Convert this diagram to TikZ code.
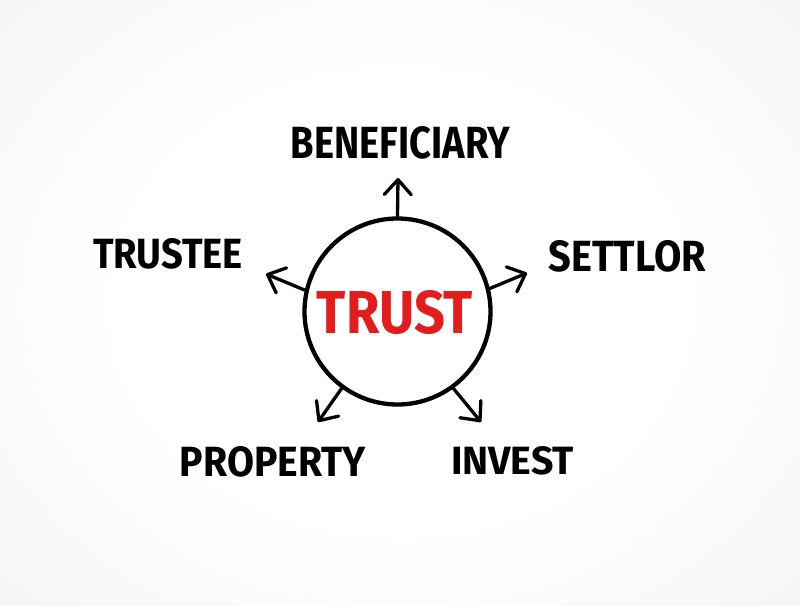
\documentclass[tikz,border=0pt]{standalone}
\usepackage{fontspec}
\setmainfont{Fira Sans}
\usetikzlibrary{arrows.meta}
\definecolor{trustred}{RGB}{228,28,30}
\pgfdeclareradialshading{bgshade}{\pgfpoint{0bp}{0bp}}{color(0bp)=(white); color(14bp)=(white); color(50bp)=(black!10)}
\newcommand{\fitlabel}[3]{\resizebox{#1pt}{#2pt}{\bfseries #3}}
\begin{document}
\begin{tikzpicture}[x=1pt,y=-1pt,
  lbl/.style={inner sep=0pt, text=black},
  conn/.style={line width=3.3pt, line cap=round, -{Straight Barb[length=15pt,width=27pt,line width=3.3pt,round]}}]
\useasboundingbox (0,0) rectangle (800,605);
\shade[shading=bgshade] (-100,-100) rectangle (900,705);
\node[circle, draw, line width=4.3pt, minimum size=186pt, inner sep=0pt, fill=white] (trust) at (397.5,311.5) {};
\node[lbl, text=trustred] (trusttext) at (395,313) {\fitlabel{156}{43}{TRUST}};
\node[lbl] (benef) at (400.5,143) {\fitlabel{219}{32}{BENEFICIARY}};
\node[lbl] (trustee) at (168,254) {\fitlabel{150}{30}{TRUSTEE}};
\node[lbl] (settlor) at (627.5,256) {\fitlabel{157}{31}{SETTLOR}};
\node[lbl] (property) at (273,462) {\fitlabel{186}{30}{PROPERTY}};
\node[lbl] (invest) at (512.5,461) {\fitlabel{123}{28}{INVEST}};
\coordinate (tipB) at (398,178);
\coordinate (tipT) at (266,274);
\coordinate (tipS) at (527,273);
\coordinate (tipP) at (318,422);
\coordinate (tipI) at (481,422);
\draw[conn] (trust.90) -- (tipB);
\draw[conn] (trust.167) -- (tipT);
\draw[conn] (trust.14) -- (tipS);
\draw[conn] (trust.234) -- (tipP);
\draw[conn] (trust.306) -- (tipI);
\end{tikzpicture}
\end{document}
